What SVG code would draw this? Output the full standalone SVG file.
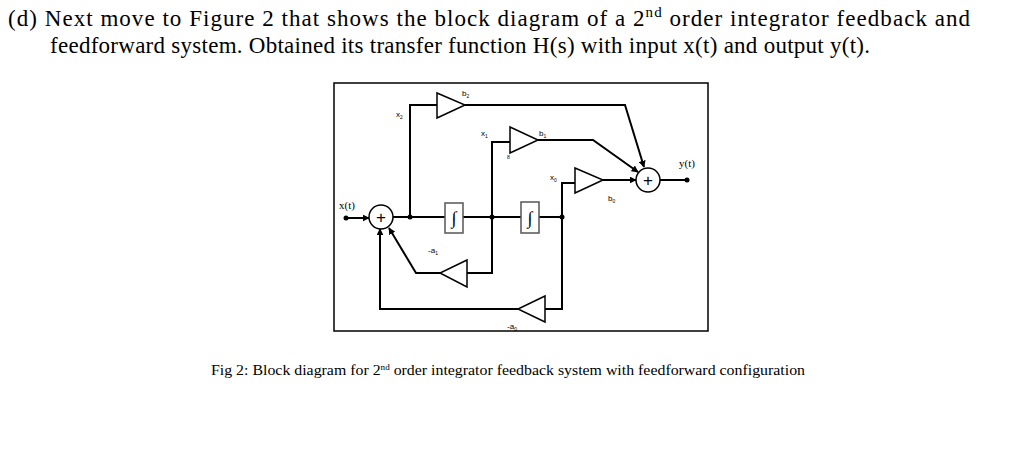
<svg xmlns="http://www.w3.org/2000/svg" width="1024" height="457" viewBox="0 0 1024 457">
<defs>
<style>
.t{font-family:"Liberation Serif",serif;fill:#000}
.s{font-family:"Liberation Sans",sans-serif;fill:#000}
.w{fill:none;stroke:#000;stroke-width:2}
.tri{fill:#fff;stroke:#000;stroke-width:1.5}
.box{fill:#fff;stroke:#555;stroke-width:1.5}
</style>
<marker id="a" viewBox="0 0 10 10" refX="9" refY="5" markerWidth="7" markerHeight="7" markerUnits="userSpaceOnUse" orient="auto"><path d="M0,0L10,5L0,10z"/></marker>
</defs>
<rect width="1024" height="457" fill="#fff"/>
<text class="t" x="8" y="26" font-size="23" textLength="962" lengthAdjust="spacing">(d) Next move to Figure 2 that shows the block diagram of a 2<tspan dy="-9" font-size="15">nd</tspan><tspan dy="9"> order integrator feedback and</tspan></text>
<text class="t" x="50" y="53" font-size="23" textLength="820" lengthAdjust="spacing">feedforward system. Obtained its transfer function H(s) with input x(t) and output y(t).</text>
<rect x="334" y="83" width="374" height="248" fill="#fff" stroke="#000" stroke-width="1.5"/>
<g id="connectors">
<path class="w" d="M346,218H369" marker-end="url(#a)"/>
<path class="w" d="M393,217H445M463,217H521M539,217H562"/>
<path class="w" d="M410,217V105H437"/>
<path class="w" d="M465,105H625L644,167" marker-end="url(#a)"/>
<path class="w" d="M492,217V142H510"/>
<path class="w" d="M538,140H593L638,172" marker-end="url(#a)"/>
<path class="w" d="M562,217V183H575"/>
<path class="w" d="M603,180H636" marker-end="url(#a)"/>
<path class="w" d="M660,180H687"/>
<path class="w" d="M492,217V273H467"/>
<path class="w" d="M440,273H416L389,228" marker-end="url(#a)"/>
<path class="w" d="M562,217V309H545"/>
<path class="w" d="M518,309H380V229" marker-end="url(#a)"/>
<circle cx="346" cy="218" r="2.5"/><circle cx="687" cy="180" r="2.5"/>
<circle cx="410" cy="217" r="2.5"/><circle cx="492" cy="217" r="2.5"/><circle cx="562" cy="217" r="2.5"/>
</g>
<g id="sum1"><circle cx="381" cy="217" r="12" fill="#fff" stroke="#000" stroke-width="1.5"/><text class="s" x="381" y="223" font-size="17" text-anchor="middle">+</text></g>
<g id="sum2"><circle cx="648" cy="180" r="12" fill="#fff" stroke="#000" stroke-width="1.5"/><text class="s" x="648" y="186" font-size="17" text-anchor="middle">+</text></g>
<g id="int1"><rect class="box" x="445" y="203" width="18" height="30"/><text class="t" x="454" y="224" font-size="18" font-style="italic" text-anchor="middle">∫</text></g>
<g id="int2"><rect class="box" x="521" y="202" width="18" height="31"/><text class="t" x="530" y="224" font-size="18" font-style="italic" text-anchor="middle">∫</text></g>
<g id="b2"><path class="tri" d="M437,93L465,105L437,118z"/></g>
<g id="b1"><path class="tri" d="M510,127L538,140L510,153z"/></g>
<g id="b0"><path class="tri" d="M575,168L603,180L575,193z"/></g>
<g id="a1"><path class="tri" d="M467,260L440,273L467,287z"/></g>
<g id="a0"><path class="tri" d="M545,296L518,309L545,322z"/></g>
<g id="labels" font-size="8">
<text class="s" x="462" y="96">b<tspan font-size="5" dy="2">2</tspan></text>
<text class="s" x="396" y="117">x<tspan font-size="5" dy="2">2</tspan></text>
<text class="s" x="481" y="136">x<tspan font-size="5" dy="2">1</tspan></text>
<text class="s" x="507" y="159" font-size="5">8</text>
<text class="s" x="539" y="136">b<tspan font-size="5" dy="2">1</tspan></text>
<text class="s" x="550" y="180">x<tspan font-size="5" dy="2">0</tspan></text>
<text class="s" x="608" y="201">b<tspan font-size="5" dy="2">0</tspan></text>
<text class="t" x="679" y="167" font-size="11">y(t)</text>
<text class="t" x="339" y="209" font-size="11">x(t)</text>
<text class="s" x="428" y="253">-a<tspan font-size="5" dy="2">1</tspan></text>
<text class="s" x="507" y="329">-a<tspan font-size="5" dy="2">0</tspan></text>
</g>
<text class="t" x="211" y="375" font-size="14" textLength="594" lengthAdjust="spacingAndGlyphs">Fig 2: Block diagram for 2<tspan dy="-5" font-size="8">nd</tspan><tspan dy="5"> order integrator feedback system with feedforward configuration</tspan></text>
</svg>
